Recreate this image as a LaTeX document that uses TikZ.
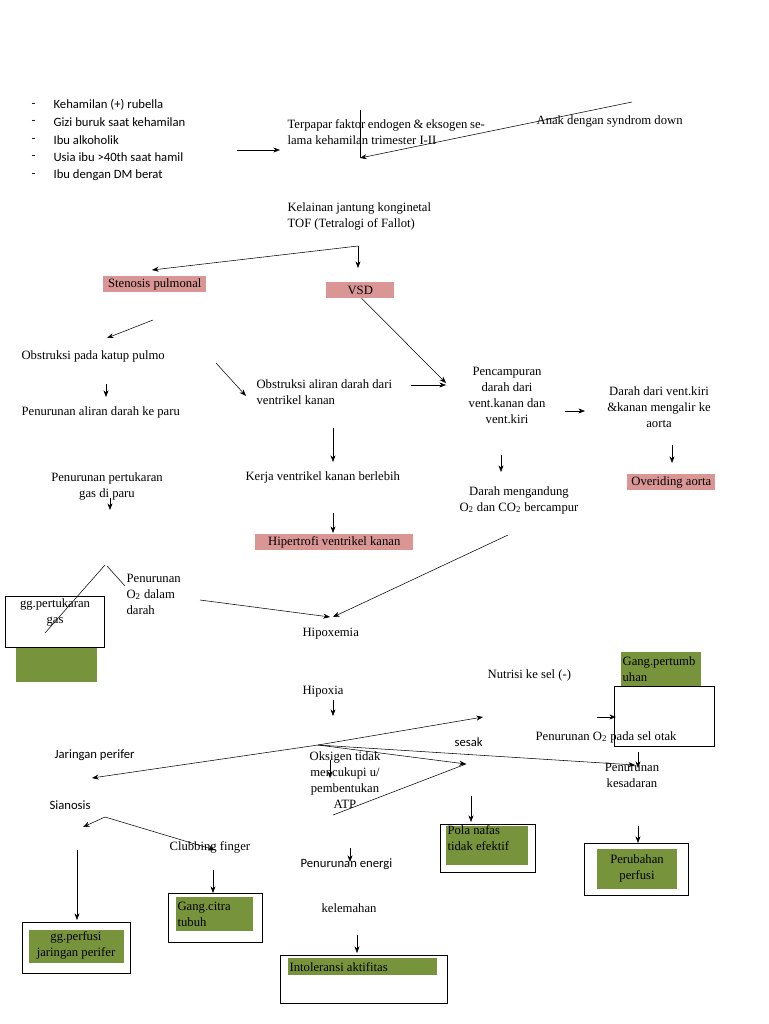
\documentclass[tikz,border=0pt]{standalone}
\usepackage{fontspec}
\setmainfont{Liberation Serif}
\newfontfamily\calibri{Carlito}
\usetikzlibrary{arrows.meta,calc}
\definecolor{pinkbox}{RGB}{217,150,148}
\definecolor{greenbox}{RGB}{119,147,60}
\begin{document}
\begin{tikzpicture}[x=0.75pt,y=-0.75pt,
  every node/.style={font=\fontsize{9.5}{12}\selectfont,inner sep=1pt},
  txt/.style={anchor=west,align=left},
  sans/.style={txt,font=\calibri\fontsize{9.5}{12}\selectfont},
  pink/.style={fill=pinkbox,anchor=west,minimum height=12pt,inner sep=1.5pt},
  arr/.style={-{Stealth[length=5pt]},thin}]
\useasboundingbox (0,0) rectangle (768,1024);

% risk factors
\foreach \t [count=\i] in {Kehamilan (+) rubella,Gizi buruk saat kehamilan,Ibu alkoholik,Usia ibu >40th saat hamil,Ibu dengan DM berat}{
  \node[sans] at (30,{87.5+17.5*\i}) {-};
  \node[sans] (rf\i) at (52,{87.5+17.5*\i}) {\t};
}
\node[txt,text width=148pt,align=justify] (paparan) at (286,132) {Terpapar faktor endogen \& eksogen selama kehamilan trimester I-II};
\node[txt] (down) at (535,121) {Anak dengan syndrom down};
\coordinate (c1) at (237,150);
\coordinate (c2) at (280,150);
\draw[arr] (c1) -- (c2);
\coordinate (c3) at (632,102);
\coordinate (c4) at (360,158);
\coordinate (c5) at (360,110);
\draw[arr] (c3) -- (c4);
\draw (c5) -- (c4);

\node[txt] (tof) at (286,216) {Kelainan jantung konginetal\\TOF (Tetralogi of Fallot)};
\coordinate (t1) at (358,246);
\draw[arr] (t1) -- ++(0,22);
\draw[arr] (t1) -- (152,270);
\node[pink,minimum width=103pt*0.75] (stenosis) at (103,284) {Stenosis pulmonal};
\node[pink,minimum width=68pt*0.75] (vsd) at (326,290) {VSD};

% left column
\draw[arr] (153,320) -- (107,338);
\node[txt] (katup) at (20,356) {Obstruksi pada katup pulmo};
\draw[arr] (106,384) -- (106,397);
\node[txt] (aliran) at (20,412) {Penurunan aliran darah ke paru};
\node[align=center] (tukar) at (107,486) {Penurunan pertukaran\\gas di paru};
\draw[arr] (110,498) -- (110,510);

% middle column
\draw[arr] (216,363) -- (246,396);
\node[txt] (obstruksi) at (255,392) {Obstruksi aliran darah dari\\ventrikel kanan};
\draw[arr] (333,428) -- (333,462);
\node[txt] (kerja) at (244,477) {Kerja ventrikel kanan berlebih};
\draw[arr] (333,513) -- (333,533);
\node[pink,minimum width=158pt*0.75] (hipertrofi) at (255,542) {Hipertrofi ventrikel kanan};

% right column
\draw[arr] (411,385) -- (446,385);
\draw[arr] (vsd.south east) ++(-33,0) -- (446,383);
\node[align=center] (campur) at (507,395) {Pencampuran\\darah dari\\vent.kanan dan\\vent.kiri};
\draw[arr] (565,411) -- (585,411);
\node[align=center] (aorta) at (659,407) {Darah dari vent.kiri\\\&kanan mengalir ke\\aorta};
\draw[arr] (672,445) -- (672,463);
\node[pink,minimum width=88pt*0.75] (overiding) at (627,482) {Overiding aorta};
\draw[arr] (501,455) -- (501,472);
\node[align=center] (darah) at (519,500) {Darah mengandung\\O\textsubscript{2} dan CO\textsubscript{2} bercampur};

% hipoksemia
\draw (105,565) -- (45,633);
\draw (107,566) -- (125,586);
\node[txt] (o2) at (125,594) {Penurunan\\O\textsubscript{2} dalam\\darah};
\draw[arr] (200,600) -- (330,617);
\draw[arr] (508,535) -- (333,617);
\node[txt] (hipoksemia) at (301,634) {Hipoxemia};
\draw (5,596) rectangle (104,647);
\node[align=center] (ggtukar) at (55,612) {gg.pertukaran\\gas};
\fill[greenbox] (16,648) rectangle (97,682);

\node[txt] (hipoxia) at (301,692) {Hipoxia};
\draw[arr] (333,700) -- (333,716);
\node[txt] (nutrisi) at (486,675) {Nutrisi ke sel (-)};
\fill[greenbox] (621,652) rectangle (701,686);
\node[txt] (tumbuh) at (621,669) {Gang.pertumb\\uhan};
\draw (614,686) rectangle (714,746);
\node[txt] (otak) at (534,737) {Penurunan O\textsubscript{2} pada sel otak};
\draw[arr] (597,717) -- (616,717);

% spreading from hipoxia
\coordinate (h0) at (318,745);
\draw[arr] (h0) -- (483,717);
\draw[arr] (h0) -- (92,778);
\draw[arr] (h0) -- (466,764);
\draw[arr] (h0) -- (635,765);
\draw[arr] (330,760) -- (330,778);
\draw (333,815) -- (466,764);
\node[sans] (sesak) at (453,742) {sesak};
\node[align=center] (oksigen) at (345,780) {Oksigen tidak\\mencukupi u/\\pembentukan\\ATP};
\node[sans] (perifer) at (53,755) {Jaringan perifer};
\node[align=center] (kesadaran) at (632,775) {Penurunan\\kesadaran};
\draw[arr] (638,752) -- (638,768);

\draw[arr] (471,796) -- (471,822);
\draw (440,824) rectangle (535,872);
\fill[greenbox] (446,826) rectangle (528,865);
\node[txt] (pola) at (446,838) {Pola nafas\\tidak efektif};
\draw[arr] (638,826) -- (638,843);
\draw (584,843) rectangle (688,895);
\fill[greenbox] (597,849) rectangle (677,889);
\node[align=center] (perfusi) at (637,868) {Perubahan\\perfusi};

% left bottom
\node[sans] (sianosis) at (48,805) {Sianosis};
\draw[arr] (105,817) -- (83,827);
\draw[arr] (105,817) -- (215,850);
\node[txt] (clubbing) at (168,847) {Clubbing finger};
\draw[arr] (77,850) -- (77,920);
\draw (22,922) rectangle (130,973);
\fill[greenbox] (29,930) rectangle (124,963);
\node[align=center] (ggperfusi) at (76,945) {gg.perfusi\\jaringan perifer};
\draw[arr] (213,870) -- (213,893);
\draw (168,893) rectangle (262,942);
\fill[greenbox] (176,897) rectangle (253,931);
\node[txt] (citra) at (176,914) {Gang.citra\\tubuh};

% bottom middle
\draw[arr] (350,848) -- (350,862);
\node[sans] (energi) at (299,864) {Penurunan energi};
\node[txt] (lemah) at (320,908) {kelemahan};
\draw[arr] (357,935) -- (357,953);
\draw (280,955) rectangle (447,1003);
\fill[greenbox] (288,958) rectangle (437,975);
\node[txt] (intoleransi) at (288,967) {Intoleransi aktifitas};
\end{tikzpicture}
\end{document}
